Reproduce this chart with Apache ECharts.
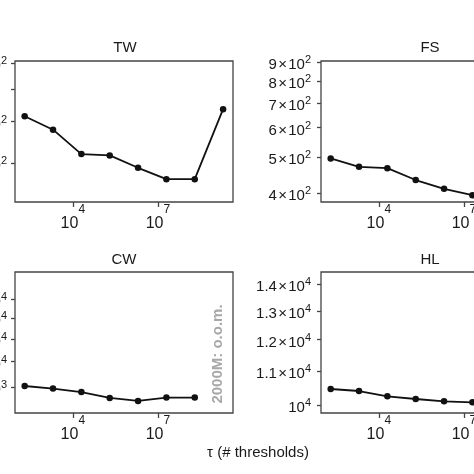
<!DOCTYPE html>
<html>
<head>
<meta charset="utf-8">
<script src="https://cdn.jsdelivr.net/npm/echarts@6/dist/echarts.min.js"></script>
<style>html,body{margin:0;padding:0;background:#fff}#c{width:474px;height:474px}</style>
</head>
<body>
<div id="c"></div>
<script>
// thresholds tau
var thresholds = [2e2, 2e3, 2e4, 2e5, 2e6, 2e7, 2e8, 2e9];
// series values (hidden ones estimated)
var twValues = [415, 378, 319, 316, 290, 268, 268, 436];
var fsValues = [496, 471, 467, 434, 411, 395, 391, 878];
var cwValues = [9037, 8940, 8813, 8597, 8490, 8610, 8610]; // 2000M: o.o.m.
var hlValues = [10456, 10398, 10245, 10169, 10104, 10076, 9922, 14280];

// tick values and labels
var xTickValues = [1e4, 1e7];
var xTickLabels = ['10^4', '10^7'];
var twTickValues = [300, 400, 500, 600];
var twTickLabels = ['3\u200a×\u200a10^2', '4\u200a×\u200a10^2', '', '6\u200a×\u200a10^2'];
var fsTickValues = [400, 500, 600, 700, 800, 900];
var fsTickLabels = ['4\u200a×\u200a10^2', '5\u200a×\u200a10^2', '6\u200a×\u200a10^2', '7\u200a×\u200a10^2', '8\u200a×\u200a10^2', '9\u200a×\u200a10^2'];
var cwTickValues = [9000, 10000, 11000, 12000, 13000, 14000];
var cwTickLabels = ['9\u200a×\u200a10^3', '10^4', '1.1\u200a×\u200a10^4', '1.2\u200a×\u200a10^4', '1.3\u200a×\u200a10^4', '1.4\u200a×\u200a10^4'];
var hlTickValues = [10000, 11000, 12000, 13000, 14000];
var hlTickLabels = ['10^4', '1.1\u200a×\u200a10^4', '1.2\u200a×\u200a10^4', '1.3\u200a×\u200a10^4', '1.4\u200a×\u200a10^4'];

var xRange = [91.2, 4.47e9];
var twRange = [228.6, 609.5];
var fsRange = [378.8, 907];
var cwRange = [8075, 14535];
var hlRange = [9780, 14488];

var L = Math.log10;
var font = 'Liberation Sans, Arial, Helvetica, sans-serif';
var ink = '#1a1a1a';
var boxColor = '#444';

function rich(lbl) {
  if (!lbl) return '';
  var p = lbl.split('^');
  return '{b|' + p[0] + '}{s|' + p[1] + '}';
}
function fmt(ticks, labels) {
  return function (v) {
    for (var i = 0; i < ticks.length; i++) {
      if (Math.abs(L(ticks[i]) - v) < 1e-6) return rich(labels[i]);
    }
    return '';
  };
}
var richY = {
  b: { fontSize: 15, fontFamily: font, color: ink, lineHeight: 16, verticalAlign: 'bottom' },
  s: { fontSize: 11, fontFamily: font, color: ink, lineHeight: 12, verticalAlign: 'bottom', padding: [0, 0, 7, 0] }
};
var richX = {
  b: { fontSize: 16, fontFamily: font, color: ink, lineHeight: 16, verticalAlign: 'bottom' },
  s: { fontSize: 12, fontFamily: font, color: ink, lineHeight: 12, verticalAlign: 'bottom', padding: [0, 0, 16, 0] }
};

var grids = [
  { left: 15, top: 61, width: 218, height: 141 },
  { left: 321, top: 61, width: 218, height: 141 },
  { left: 15, top: 272, width: 218, height: 141 },
  { left: 321, top: 272, width: 218, height: 141 }
];
grids.forEach(function (g) {
  g.show = true; g.borderColor = boxColor; g.borderWidth = 1.3; g.backgroundColor = 'transparent';
  g.containLabel = false; g.outerBoundsMode = 'none';
});

function xAxis(i) {
  return {
    gridIndex: i, type: 'value', min: L(xRange[0]), max: L(xRange[1]),
    axisLine: { show: false },
    splitLine: { show: false },
    axisTick: { show: true, inside: false, length: 5, lineStyle: { color: boxColor, width: 1.3 },
      customValues: xTickValues.map(L) },
    axisLabel: { show: true, margin: 13.5, customValues: xTickValues.map(L),
      formatter: fmt(xTickValues, xTickLabels), rich: richX }
  };
}
function yAxis(i, range, ticks, labels, margin) {
  return {
    gridIndex: i, type: 'value', min: L(range[0]), max: L(range[1]),
    axisLine: { show: false },
    splitLine: { show: false },
    axisTick: { show: true, inside: false, length: 4, lineStyle: { color: boxColor, width: 1.3 },
      customValues: ticks.map(L) },
    axisLabel: { show: true, margin: margin, customValues: ticks.map(L),
      formatter: fmt(ticks, labels), rich: richY, align: 'right', padding: [5, 0, 0, 0] }
  };
}
function series(i, vals) {
  return {
    type: 'line', xAxisIndex: i, yAxisIndex: i,
    data: vals.map(function (v, k) { return [L(thresholds[k]), L(v)]; }),
    symbol: 'circle', symbolSize: 6.5, showSymbol: true,
    lineStyle: { color: '#111', width: 1.8 },
    itemStyle: { color: '#111' },
    clip: false, silent: true
  };
}
function txt(x, y, s, extra) {
  var st = { text: s, x: 0, y: 0, fill: ink, font: '15px ' + font, textAlign: 'center', textVerticalAlign: 'middle' };
  for (var k in (extra || {})) st[k] = extra[k];
  return { type: 'text', x: x, y: y, style: st };
}

var titles = ['TW', 'FS', 'CW', 'HL'];
var graphics = [
  txt(125, 48, titles[0]),
  txt(430, 48, titles[1]),
  txt(124, 260, titles[2]),
  txt(430, 260, titles[3]),
  txt(258, 453, 'τ (# thresholds)'),
  { type: 'text', x: 218, y: 354, rotation: Math.PI / 2,
    style: { text: '2000M: o.o.m.', fill: '#a8a8a8', font: 'bold 15px ' + font, textAlign: 'center', textVerticalAlign: 'middle' } }
];

var chart = echarts.init(document.getElementById('c'), null, { renderer: 'canvas' });
chart.setOption({
  animation: false,
  backgroundColor: '#fff',
  grid: grids,
  xAxis: [xAxis(0), xAxis(1), xAxis(2), xAxis(3)],
  yAxis: [
    yAxis(0, twRange, twTickValues, twTickLabels, 8),
    yAxis(1, fsRange, fsTickValues, fsTickLabels, 10),
    yAxis(2, cwRange, cwTickValues, cwTickLabels, 8),
    yAxis(3, hlRange, hlTickValues, hlTickLabels, 10)
  ],
  series: [series(0, twValues), series(1, fsValues), series(2, cwValues), series(3, hlValues)],
  graphic: graphics
});
</script>
</body>
</html>
